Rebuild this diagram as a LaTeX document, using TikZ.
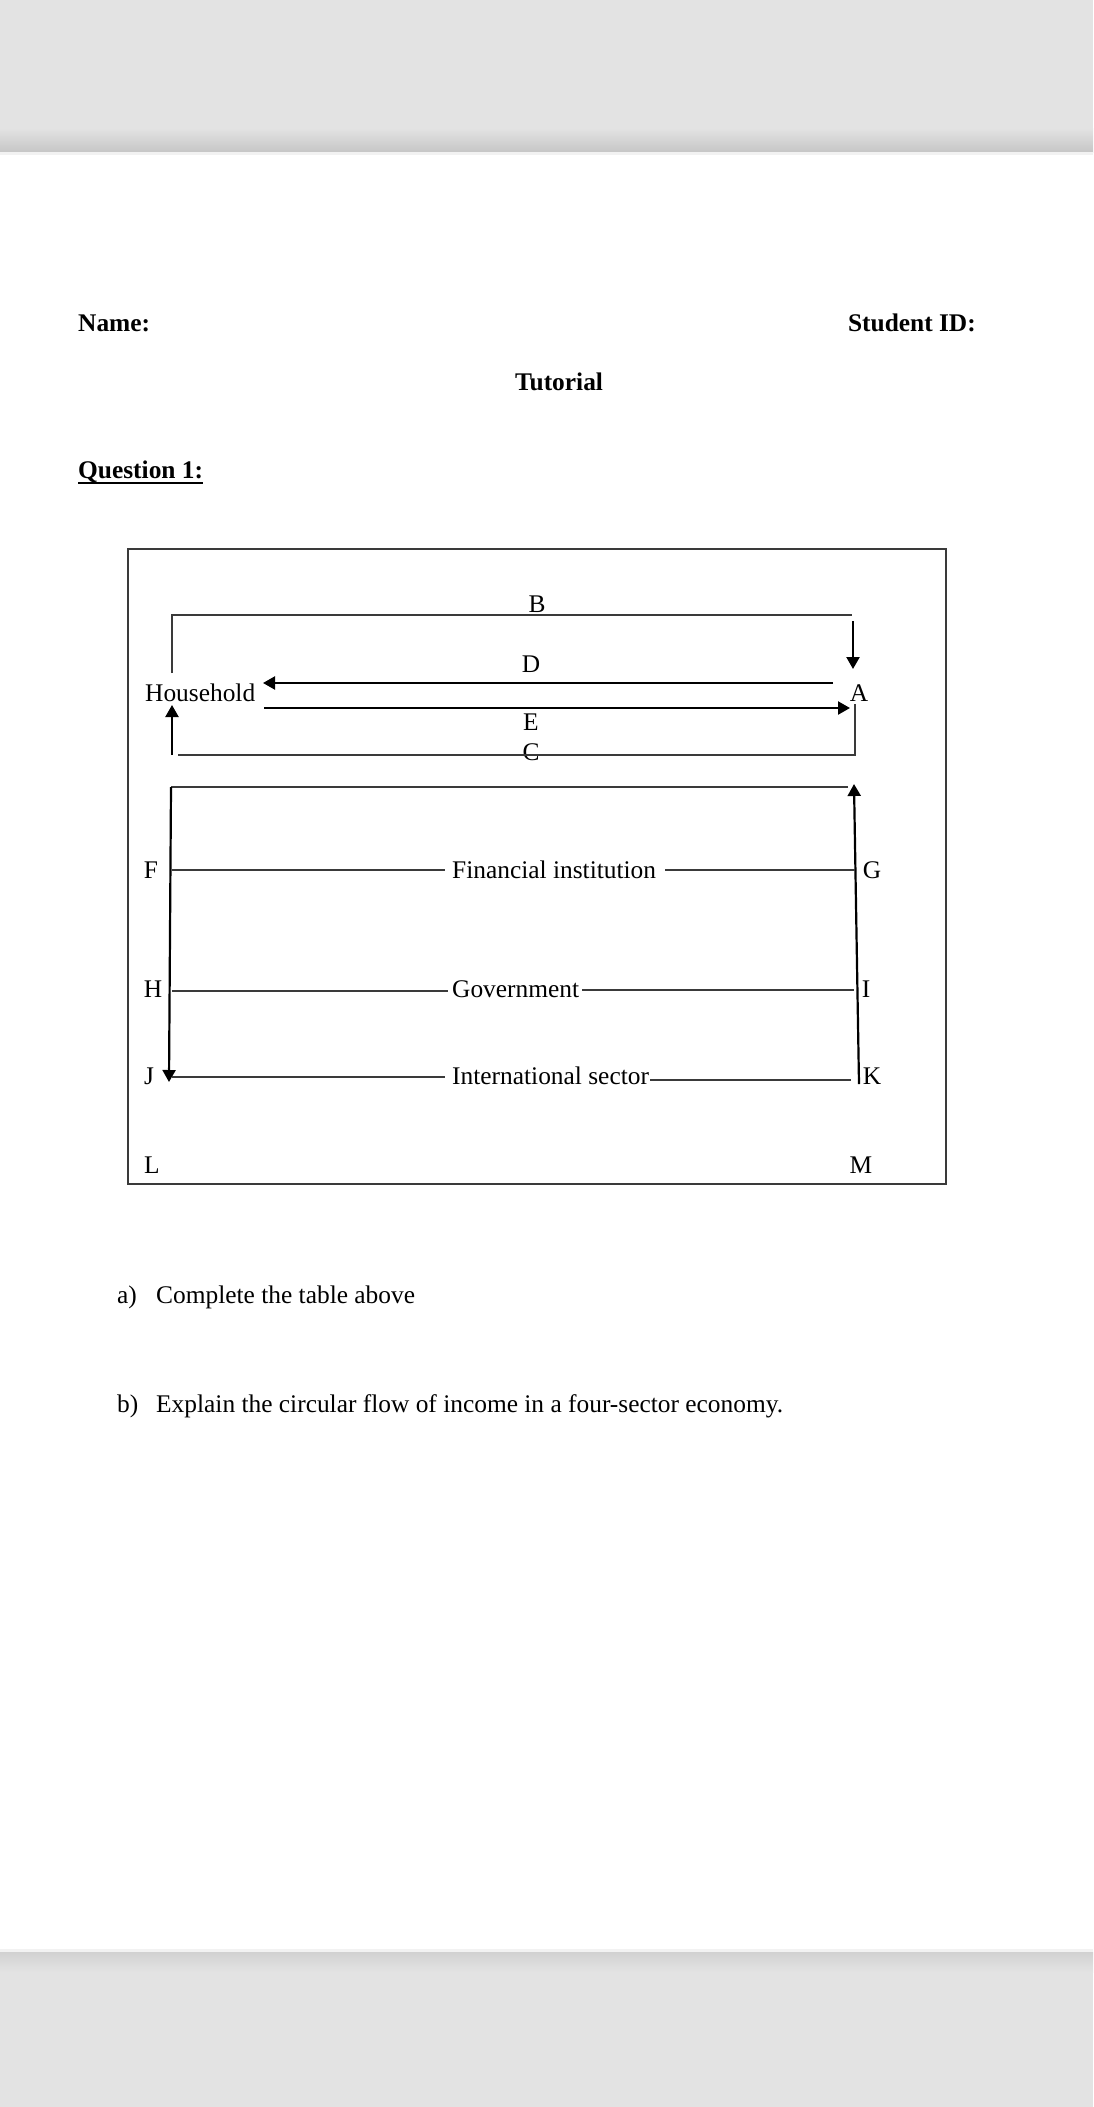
\documentclass[tikz,border=0pt]{standalone}
\usepackage{fontspec}
\setmainfont{Liberation Serif}
\usetikzlibrary{arrows.meta}
\definecolor{bandgray}{HTML}{E3E3E3}
\definecolor{banddark}{HTML}{C6C6C6}
\definecolor{linegray}{HTML}{3A3A3A}
\begin{document}
\begin{tikzpicture}[x=1pt,y=-1pt,
  lbl/.style={inner sep=0pt, anchor=base, font=\fontsize{25.4}{30}\selectfont},
  lblw/.style={lbl, anchor=base west},
  head/.style={inner sep=0pt, font=\fontsize{25.4}{30}\selectfont\bfseries},
  plainline/.style={line width=1.7pt, draw=linegray},
  flowarrow/.style={line width=2.2pt, draw=black, -{Triangle[length=12pt,width=13pt]}},
  boxline/.style={line width=2pt, draw=linegray}
]
\useasboundingbox (0,0) rectangle (1093,2107);
\fill[white] (0,0) rectangle (1093,2107);
% top and bottom bands
\fill[bandgray] (0,0) rectangle (1093,152);
\shade[top color=bandgray, bottom color=banddark] (0,128) rectangle (1093,152);
\fill[black!5] (0,152) rectangle (1093,155);
\fill[bandgray] (0,1950) rectangle (1093,2107);
\fill[black!5] (0,1949) rectangle (1093,1952);
\shade[top color=banddark!80, bottom color=bandgray] (0,1952) rectangle (1093,1972);

% headings
\node[head, anchor=base west] (name) at (78,331) {Name:};
\node[head, anchor=base east] (sid) at (976,331) {Student ID:};
\node[head, anchor=base] (tut) at (559,390) {Tutorial};
\node[head, anchor=base west] (q1) at (78,478) {Question 1:};
\draw[line width=2.4pt] ([yshift=-5pt]q1.base west) -- ([yshift=-5pt]q1.base east);

% frame
\draw[boxline] (127.5,549) rectangle (945.5,1184);

% labels
\node[lbl] (B) at (537,612) {B};
\node[lbl] (D) at (531,672) {D};
\node[lblw] (hh) at (145,701) {Household};
\node[lbl] (A) at (859,701) {A};
\node[lbl] (E) at (531,730) {E};
\node[lbl] (C) at (531,760) {C};
\node[lbl] (F) at (151,878) {F};
\node[lblw] (fin) at (452,878) {Financial institution};
\node[lbl] (G) at (872,878) {G};
\node[lbl] (H) at (153,997) {H};
\node[lblw] (gov) at (452,997) {Government};
\node[lbl] (I) at (866,997) {I};
\node[lbl] (J) at (149,1084) {J};
\node[lblw] (int) at (452,1084) {International sector};
\node[lbl] (K) at (872,1084) {K};
\node[lbl] (L) at (152,1173) {L};
\node[lbl] (M) at (861,1173) {M};

% coordinates for connector ends
\coordinate (b0) at (172,673);
\coordinate (b1) at (172,615);
\coordinate (b2) at (852,615);
\coordinate (a0) at (853,621);
\coordinate (a1) at (853,669);
\coordinate (d0) at (833,683);
\coordinate (d1) at (263,683);
\coordinate (e0) at (264,708);
\coordinate (e1) at (850,708);
\coordinate (c0) at (178,755);
\coordinate (c1) at (855,755);
\coordinate (c2) at (855,704);
\coordinate (h0) at (172,755);
\coordinate (h1) at (172,705);
\coordinate (t0) at (848,787);
\coordinate (t1) at (171,787);
\coordinate (t2) at (169,1082);
\coordinate (k0) at (859,1084);
\coordinate (k1) at (854,784);
\coordinate (f0) at (172,870);
\coordinate (f1) at (445,870);
\coordinate (g0) at (665,870);
\coordinate (g1) at (855,870);
\coordinate (hl0) at (172,991);
\coordinate (hl1) at (448,991);
\coordinate (i0) at (582,990);
\coordinate (i1) at (854,990);
\coordinate (j0) at (172,1077);
\coordinate (j1) at (445,1077);
\coordinate (kl0) at (650,1080);
\coordinate (kl1) at (851,1080);

% upper connectors
\draw[plainline] (b0) -- (b1) -- (b2);
\draw[flowarrow] (a0) -- (a1);
\draw[flowarrow] (d0) -- (d1);
\draw[flowarrow] (e0) -- (e1);
\draw[plainline] (c0) -- (c1) -- (c2);
\draw[flowarrow] (h0) -- (h1);

% lower connectors
\draw[plainline] (t0) -- (t1);
\draw[flowarrow] (t1) -- (t2);
\draw[flowarrow] (k0) -- (k1);
\draw[plainline] (f0) -- (f1);
\draw[plainline] (g0) -- (g1);
\draw[plainline] (hl0) -- (hl1);
\draw[plainline] (i0) -- (i1);
\draw[plainline] (j0) -- (j1);
\draw[plainline] (kl0) -- (kl1);

% questions
\node[lblw] (qa) at (117,1303) {a)};
\node[lblw] (qat) at (156,1303) {Complete the table above};
\node[lblw] (qb) at (117,1412) {b)};
\node[lblw] (qbt) at (156,1412) {Explain the circular flow of income in a four-sector economy.};
\end{tikzpicture}
\end{document}
